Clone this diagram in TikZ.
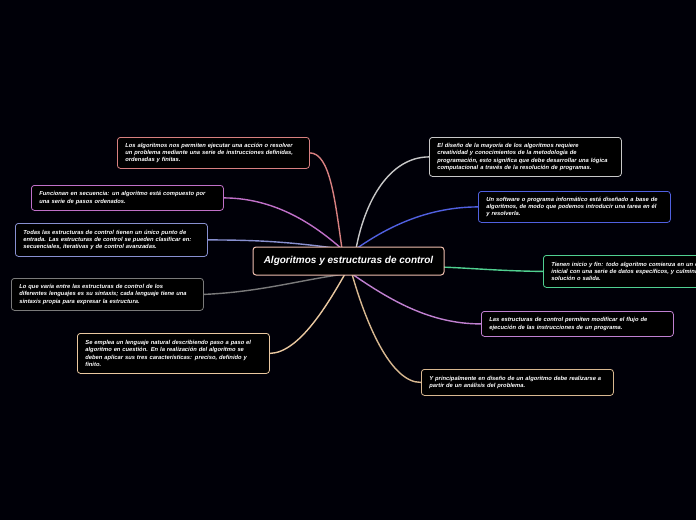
\documentclass[tikz,border=0pt]{standalone}
\usepackage{fontspec}
\setmainfont{Liberation Sans}
\begin{document}
\begin{tikzpicture}[x=1pt,y=-1pt,
  leaf/.style={draw,rounded corners=3pt,line width=0.8pt,fill=black,anchor=north west,align=left,text=white,font=\fontsize{5.8}{7.4}\selectfont\bfseries\itshape,inner xsep=8pt,inner ysep=4pt,text width=176pt},
  br/.style={line width=1.4pt}]
\fill[black!97!blue] (0,0) rectangle (696,520);
\useasboundingbox (0,0) rectangle (696,520);
\definecolor{cA}{HTML}{D88080}\definecolor{cB}{HTML}{C070C8}\definecolor{cC}{HTML}{8890D0}
\definecolor{cD}{HTML}{7A7A7A}\definecolor{cE}{HTML}{EAC8A0}\definecolor{cF}{HTML}{C8C8C8}
\definecolor{cG}{HTML}{5060E0}\definecolor{cH}{HTML}{50D090}\definecolor{cI}{HTML}{C080D0}
\definecolor{cJ}{HTML}{D8B890}\definecolor{cM}{HTML}{F0C0B0}
\coordinate (hl) at (342,249); \coordinate (hr) at (356,249);
\coordinate (bl) at (345,274); \coordinate (brr) at (352,274);
\node[leaf,draw=cA,minimum height=31pt] (a) at (117,137) {Los algoritmos nos permiten ejecutar una acción o resolver\\un problema mediante una serie de instrucciones definidas,\\ordenadas y finitas.};
\node[leaf,draw=cB,minimum height=25pt] (b) at (31,185) {Funcionan en secuencia: un algoritmo está compuesto por\\una serie de pasos ordenados.};
\node[leaf,draw=cC,minimum height=33pt] (cc) at (15,223) {Todas las estructuras de control tienen un único punto de\\entrada. Las estructuras de control se pueden clasificar en:\\secuenciales, iterativas y de control avanzadas.};
\node[leaf,draw=cD,minimum height=32pt] (d) at (11,278) {Lo que varía entre las estructuras de control de los\\diferentes lenguajes es su sintaxis; cada lenguaje tiene una\\sintaxis propia para expresar la estructura.};
\node[leaf,draw=cE,minimum height=40pt] (e) at (77,333) {Se emplea un lenguaje natural describiendo paso a paso el\\algoritmo en cuestión. En  la realización del algoritmo se\\deben aplicar sus tres características: preciso, definido y\\finito.};
\node[leaf,draw=cF,minimum height=39pt] (f) at (429,137) {El diseño de la mayoría de los algoritmos requiere\\creatividad y conocimientos de la  metodología de\\programación, esto significa que debe desarrollar una lógica\\computacional a través de la resolución de programas.};
\node[leaf,draw=cG,minimum height=31pt] (g) at (478,191) {Un software o programa informático está diseñado a base de\\algoritmos, de modo que podemos introducir una tarea en él\\y resolverla.};
\node[leaf,draw=cH,minimum height=32pt,text width=230pt] (h) at (543,255) {Tienen inicio y fin: todo algoritmo comienza en un estado\\inicial con una serie de datos específicos, y culmina con una\\solución o salida.};
\node[leaf,draw=cI,minimum height=25pt] (i) at (481,311) {Las estructuras de control permiten modificar el flujo de\\ejecución de las instrucciones de un programa.};
\node[leaf,draw=cJ,minimum height=26pt] (j) at (421,369) {Y principalmente en diseño de un algoritmo debe realizarse a\\partir de un análisis del  problema.};
\draw[br,cA] (a.east) .. controls (330,153) and (335,200) .. (hl);
\draw[br,cB] (b.east) .. controls (280,198) and (320,230) .. (hl);
\draw[br,cC] (cc.east) .. controls (260,240) and (290,242) .. (hl);
\draw[br,cD] (d.east) .. controls (260,292) and (300,280) .. (bl);
\draw[br,cE] (e.east) .. controls (300,353) and (330,300) .. (bl);
\draw[br,cF] (f.west) .. controls (390,157) and (365,200) .. (hr);
\draw[br,cG] (g.west) .. controls (430,207) and (390,225) .. (hr);
\draw[br,cH] (h.west) .. controls (500,271) and (470,268) .. (440,267);
\draw[br,cI] (i.west) .. controls (430,324) and (390,300) .. (brr);
\draw[br,cJ] (j.west) .. controls (390,383) and (365,320) .. (brr);
\node[draw=cM,rounded corners=3pt,line width=1pt,fill=black,text=white,font=\fontsize{10}{11}\selectfont\bfseries\itshape,minimum width=191pt,minimum height=28pt] (m) at (348.5,261) {Algoritmos y estructuras de control};
\end{tikzpicture}
\end{document}
